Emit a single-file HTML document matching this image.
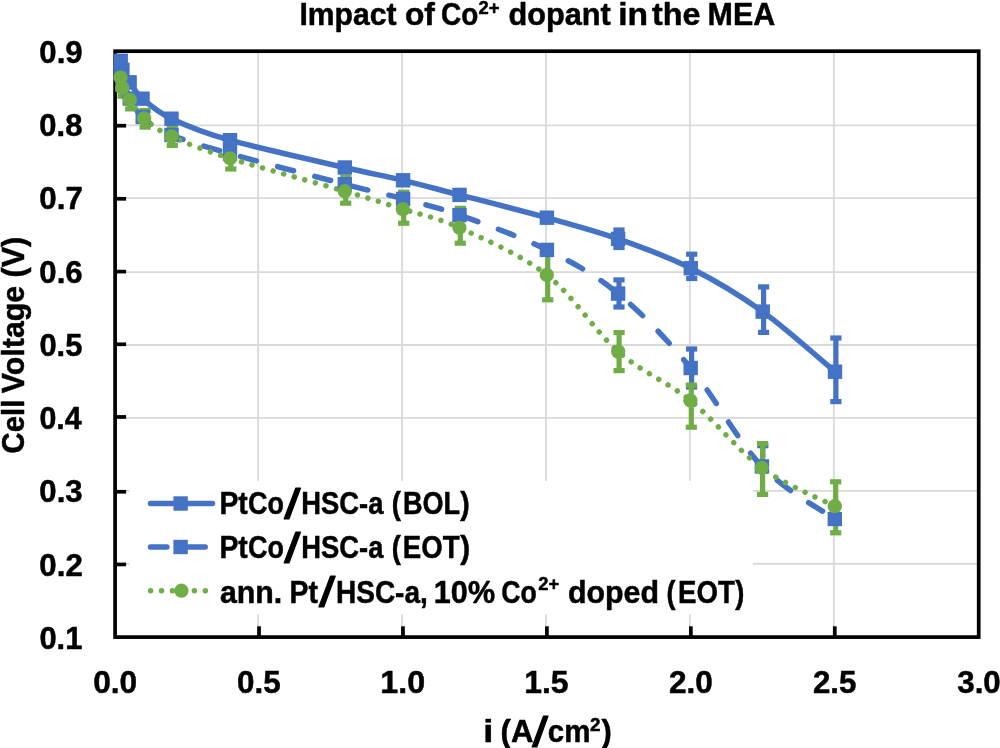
<!DOCTYPE html>
<html lang="en"><head><meta charset="utf-8"><title>Impact of Co2+ dopant in the MEA</title>
<style>html,body{margin:0;padding:0;background:#fff;}body{width:1000px;height:748px;overflow:hidden;}svg{display:block;}text{font-family:"Liberation Sans",sans-serif;font-weight:bold;fill:#000;}</style></head><body>
<svg width="1000" height="748" viewBox="0 0 1000 748">
<rect width="1000" height="748" fill="#fff"/>
<g stroke="#d9d9d9" stroke-width="1.8" fill="none">
<line x1="258.08" y1="51.2" x2="258.08" y2="637.1"/>
<line x1="402.02" y1="51.2" x2="402.02" y2="637.1"/>
<line x1="545.95" y1="51.2" x2="545.95" y2="637.1"/>
<line x1="689.88" y1="51.2" x2="689.88" y2="637.1"/>
<line x1="833.82" y1="51.2" x2="833.82" y2="637.1"/>
<line x1="115.1" y1="563.75" x2="978.7" y2="563.75"/>
<line x1="115.1" y1="490.90" x2="978.7" y2="490.90"/>
<line x1="115.1" y1="417.90" x2="978.7" y2="417.90"/>
<line x1="115.1" y1="345.00" x2="978.7" y2="345.00"/>
<line x1="115.1" y1="272.10" x2="978.7" y2="272.10"/>
<line x1="115.1" y1="198.20" x2="978.7" y2="198.20"/>
<line x1="115.1" y1="125.40" x2="978.7" y2="125.40"/>
</g>
<rect x="129.5" y="480.8" width="623.4" height="133.5" fill="#fff"/>
<g stroke="#000" stroke-width="3.7" fill="none">
<line x1="259.03" y1="637.1" x2="259.03" y2="626.3"/>
<line x1="402.97" y1="637.1" x2="402.97" y2="626.3"/>
<line x1="546.90" y1="637.1" x2="546.90" y2="626.3"/>
<line x1="690.83" y1="637.1" x2="690.83" y2="626.3"/>
<line x1="834.77" y1="637.1" x2="834.77" y2="626.3"/>
<line x1="115.1" y1="564.45" x2="126.1" y2="564.45"/>
<line x1="115.1" y1="491.76" x2="126.1" y2="491.76"/>
<line x1="115.1" y1="416.95" x2="126.1" y2="416.95"/>
<line x1="115.1" y1="344.30" x2="126.1" y2="344.30"/>
<line x1="115.1" y1="271.60" x2="126.1" y2="271.60"/>
<line x1="115.1" y1="198.80" x2="126.1" y2="198.80"/>
<line x1="115.1" y1="125.70" x2="126.1" y2="125.70"/>
<rect x="115.1" y="51.2" width="863.6" height="585.9"/>
</g>
<path d="M120.70 60.80 C120.98 62.30 120.92 66.22 122.40 69.80 C123.88 73.38 126.25 77.48 129.60 82.30 C132.95 87.12 135.52 92.63 142.50 98.70 C149.48 104.77 156.92 111.78 171.50 118.70 C186.08 125.62 201.12 132.07 230.00 140.20 C258.88 148.33 315.95 160.82 344.80 167.50 C373.65 174.18 383.98 175.73 403.10 180.30 C422.22 184.87 435.53 188.67 459.50 194.90 C483.47 201.13 520.47 210.37 546.90 217.70 C573.33 225.03 594.12 230.48 618.10 238.90 C642.08 247.32 666.70 256.08 690.80 268.20 C714.90 280.32 738.67 294.35 762.70 311.60 C786.73 328.85 822.95 361.68 835.00 371.70" fill="none" stroke="#4472c4" stroke-width="5.47" stroke-linecap="round" stroke-linejoin="round"/>
<g stroke="#4472c4" stroke-width="5.2" fill="none">
<path d="M619.0 230.0 V247.5"/>
<path d="M613.4 230.0 H624.6"/>
<path d="M613.4 247.5 H624.6"/>
<path d="M691.7 254.2 V278.5"/>
<path d="M686.1 254.2 H697.3"/>
<path d="M686.1 278.5 H697.3"/>
<path d="M763.6 286.9 V332.4"/>
<path d="M758.0 286.9 H769.2"/>
<path d="M758.0 332.4 H769.2"/>
<path d="M835.9 338.0 V401.6"/>
<path d="M830.3 338.0 H841.5"/>
<path d="M830.3 401.6 H841.5"/>
</g>
<path d="M120.70 72.00 C120.98 74.15 120.88 80.48 122.40 84.90 C123.92 89.32 126.42 93.15 129.80 98.50 C133.18 103.85 135.75 110.92 142.70 117.00 C149.65 123.08 156.95 128.90 171.50 135.00 C186.05 141.10 201.12 145.40 230.00 153.60 C258.88 161.80 315.95 176.65 344.80 184.20 C373.65 191.75 383.98 193.75 403.10 198.90 C422.22 204.05 435.53 206.60 459.50 215.10 C483.47 223.60 520.47 236.82 546.90 249.90 C573.33 262.98 594.13 273.92 618.10 293.60 C642.07 313.28 666.73 339.20 690.70 368.00 C714.67 396.80 737.88 441.23 761.90 466.40 C785.92 491.57 822.65 510.23 834.80 519.00" fill="none" stroke="#4472c4" stroke-width="5.47" stroke-linecap="round" stroke-linejoin="round" stroke-dasharray="16.41 21.88" stroke-dashoffset="-4.67"/>
<g stroke="#4472c4" stroke-width="5.2" fill="none">
<path d="M619.0 279.9 V307.0"/>
<path d="M613.4 279.9 H624.6"/>
<path d="M613.4 307.0 H624.6"/>
<path d="M691.6 349.0 V387.0"/>
<path d="M686.0 349.0 H697.2"/>
<path d="M686.0 387.0 H697.2"/>
<path d="M762.8 445.7 V457.7"/>
<path d="M757.2 445.7 H768.4"/>
</g>
<path d="M120.50 77.60 C120.80 79.32 120.75 84.18 122.30 87.90 C123.85 91.62 126.17 94.83 129.80 99.90 C133.43 104.97 137.17 112.22 144.10 118.30 C151.03 124.38 157.08 129.73 171.40 136.40 C185.72 143.07 201.10 149.17 230.00 158.30 C258.90 167.43 316.00 182.73 344.80 191.20 C373.60 199.67 383.70 203.00 402.80 209.10 C421.90 215.20 435.40 216.83 459.40 227.80 C483.40 238.77 520.33 254.27 546.80 274.90 C573.27 295.53 594.27 330.67 618.20 351.60 C642.13 372.53 666.48 381.13 690.40 400.50 C714.32 419.87 737.63 450.18 761.70 467.80 C785.77 485.42 822.62 499.80 834.80 506.20" fill="none" stroke="#70ad47" stroke-width="5.47" stroke-linecap="round" stroke-linejoin="round" stroke-dasharray="0.01 10.93" stroke-dashoffset="-2.5"/>
<g stroke="#70ad47" stroke-width="5.2" fill="none">
<path d="M121.4 73.5 V85.5"/>
<path d="M115.8 85.5 H127.0"/>
<path d="M123.2 84.2 V96.2"/>
<path d="M117.6 96.2 H128.8"/>
<path d="M130.7 96.9 V108.9"/>
<path d="M125.1 108.9 H136.3"/>
<path d="M145.2 110.5 V127.1"/>
<path d="M139.6 110.5 H150.8"/>
<path d="M139.6 127.1 H150.8"/>
<path d="M172.3 127.4 V145.4"/>
<path d="M166.7 127.4 H177.9"/>
<path d="M166.7 145.4 H177.9"/>
<path d="M230.8 148.4 V169.0"/>
<path d="M225.2 148.4 H236.4"/>
<path d="M225.2 169.0 H236.4"/>
<path d="M345.7 177.2 V203.2"/>
<path d="M340.1 177.2 H351.3"/>
<path d="M340.1 203.2 H351.3"/>
<path d="M403.7 192.2 V223.2"/>
<path d="M398.1 192.2 H409.3"/>
<path d="M398.1 223.2 H409.3"/>
<path d="M460.3 208.3 V243.2"/>
<path d="M454.7 208.3 H465.9"/>
<path d="M454.7 243.2 H465.9"/>
<path d="M547.7 250.0 V299.8"/>
<path d="M542.1 250.0 H553.3"/>
<path d="M542.1 299.8 H553.3"/>
<path d="M619.1 332.6 V370.6"/>
<path d="M613.5 332.6 H624.7"/>
<path d="M613.5 370.6 H624.7"/>
<path d="M691.3 385.1 V427.2"/>
<path d="M685.7 385.1 H696.9"/>
<path d="M685.7 427.2 H696.9"/>
<path d="M762.6 443.6 V494.4"/>
<path d="M757.0 443.6 H768.2"/>
<path d="M757.0 494.4 H768.2"/>
<path d="M835.7 481.8 V532.8"/>
<path d="M830.1 481.8 H841.3"/>
<path d="M830.1 532.8 H841.3"/>
</g>
<g fill="#4472c4">
<rect x="113.5" y="53.6" width="14.4" height="14.4"/>
<rect x="115.2" y="62.6" width="14.4" height="14.4"/>
<rect x="122.4" y="75.1" width="14.4" height="14.4"/>
<rect x="135.3" y="91.5" width="14.4" height="14.4"/>
<rect x="164.3" y="111.5" width="14.4" height="14.4"/>
<rect x="222.8" y="133.0" width="14.4" height="14.4"/>
<rect x="337.6" y="160.3" width="14.4" height="14.4"/>
<rect x="395.9" y="173.1" width="14.4" height="14.4"/>
<rect x="452.3" y="187.7" width="14.4" height="14.4"/>
<rect x="539.7" y="210.5" width="14.4" height="14.4"/>
<rect x="610.9" y="231.7" width="14.4" height="14.4"/>
<rect x="683.6" y="261.0" width="14.4" height="14.4"/>
<rect x="755.5" y="304.4" width="14.4" height="14.4"/>
<rect x="827.8" y="364.5" width="14.4" height="14.4"/>
<rect x="113.5" y="64.8" width="14.4" height="14.4"/>
<rect x="115.2" y="77.7" width="14.4" height="14.4"/>
<rect x="122.6" y="91.3" width="14.4" height="14.4"/>
<rect x="135.5" y="109.8" width="14.4" height="14.4"/>
<rect x="164.3" y="127.8" width="14.4" height="14.4"/>
<rect x="222.8" y="146.4" width="14.4" height="14.4"/>
<rect x="337.6" y="177.0" width="14.4" height="14.4"/>
<rect x="395.9" y="191.7" width="14.4" height="14.4"/>
<rect x="452.3" y="207.9" width="14.4" height="14.4"/>
<rect x="539.7" y="242.7" width="14.4" height="14.4"/>
<rect x="610.9" y="286.4" width="14.4" height="14.4"/>
<rect x="683.5" y="360.8" width="14.4" height="14.4"/>
<rect x="754.7" y="459.2" width="14.4" height="14.4"/>
<rect x="827.6" y="511.8" width="14.4" height="14.4"/>
</g><g fill="#70ad47">
<circle cx="120.5" cy="77.6" r="7.15"/>
<circle cx="122.3" cy="87.9" r="7.15"/>
<circle cx="129.8" cy="99.9" r="7.15"/>
<circle cx="144.1" cy="118.3" r="7.15"/>
<circle cx="171.4" cy="136.4" r="7.15"/>
<circle cx="230.0" cy="158.3" r="7.15"/>
<circle cx="344.8" cy="191.2" r="7.15"/>
<circle cx="402.8" cy="209.1" r="7.15"/>
<circle cx="459.4" cy="227.8" r="7.15"/>
<circle cx="546.8" cy="274.9" r="7.15"/>
<circle cx="618.2" cy="351.6" r="7.15"/>
<circle cx="690.4" cy="400.5" r="7.15"/>
<circle cx="761.7" cy="467.8" r="7.15"/>
<circle cx="834.8" cy="506.2" r="7.15"/>
</g>
<g fill="none" stroke-width="5.5" stroke-linecap="round">
<path d="M150.5 503.6 H212.5" stroke="#4472c4"/>
<path d="M150.5 547 H212.5" stroke="#4472c4" stroke-dasharray="16.4 21.9"/>
<path d="M150.6 590.7 H212" stroke="#70ad47" stroke-dasharray="0.01 10.94"/>
</g>
<rect x="173.4" y="496.3" width="14.4" height="14.4" fill="#4472c4"/>
<rect x="173.4" y="539.8" width="14.4" height="14.4" fill="#4472c4"/>
<circle cx="181.4" cy="590.7" r="7.15" fill="#70ad47"/>
<g stroke="#000" stroke-width="0.5" stroke-linejoin="round">
<text font-size="31.5"><tspan x="299.39" y="25.1" textLength="97.08" lengthAdjust="spacingAndGlyphs">Impact</tspan> <tspan x="404.96" y="25.1" textLength="29.98" lengthAdjust="spacingAndGlyphs">of</tspan> <tspan x="441.05" y="25.1" textLength="37.24" lengthAdjust="spacingAndGlyphs">Co</tspan><tspan x="478.46" y="13.5" textLength="20.98" lengthAdjust="spacingAndGlyphs" font-size="18.5">2+</tspan> <tspan x="508.44" y="25.1" textLength="102.33" lengthAdjust="spacingAndGlyphs">dopant</tspan> <tspan x="618.26" y="25.1" textLength="29.82" lengthAdjust="spacingAndGlyphs">in</tspan> <tspan x="652.01" y="25.1" textLength="48.50" lengthAdjust="spacingAndGlyphs">the</tspan> <tspan x="707.56" y="25.1" textLength="67.64" lengthAdjust="spacingAndGlyphs">MEA</tspan></text>
<text font-size="31.5"><tspan x="39.37" y="62.9" textLength="43.29" lengthAdjust="spacingAndGlyphs">0.9</tspan></text>
<text font-size="31.5"><tspan x="39.37" y="136.1" textLength="43.08" lengthAdjust="spacingAndGlyphs">0.8</tspan></text>
<text font-size="31.5"><tspan x="39.36" y="209.4" textLength="43.51" lengthAdjust="spacingAndGlyphs">0.7</tspan></text>
<text font-size="31.5"><tspan x="39.37" y="282.6" textLength="43.25" lengthAdjust="spacingAndGlyphs">0.6</tspan></text>
<text font-size="31.5"><tspan x="39.38" y="355.8" textLength="42.98" lengthAdjust="spacingAndGlyphs">0.5</tspan></text>
<text font-size="31.5"><tspan x="39.40" y="429.1" textLength="42.27" lengthAdjust="spacingAndGlyphs">0.4</tspan></text>
<text font-size="31.5"><tspan x="39.37" y="502.3" textLength="43.25" lengthAdjust="spacingAndGlyphs">0.3</tspan></text>
<text font-size="31.5"><tspan x="39.37" y="575.6" textLength="43.38" lengthAdjust="spacingAndGlyphs">0.2</tspan></text>
<text font-size="31.5"><tspan x="39.38" y="648.8" textLength="42.98" lengthAdjust="spacingAndGlyphs">0.1</tspan></text>
<text font-size="31.5"><tspan x="93.15" y="693.2" textLength="44.05" lengthAdjust="spacingAndGlyphs">0.0</tspan></text>
<text font-size="31.5"><tspan x="237.09" y="693.2" textLength="43.61" lengthAdjust="spacingAndGlyphs">0.5</tspan></text>
<text font-size="31.5"><tspan x="380.23" y="693.2" textLength="44.86" lengthAdjust="spacingAndGlyphs">1.0</tspan></text>
<text font-size="31.5"><tspan x="524.19" y="693.2" textLength="44.40" lengthAdjust="spacingAndGlyphs">1.5</tspan></text>
<text font-size="31.5"><tspan x="669.04" y="693.2" textLength="43.89" lengthAdjust="spacingAndGlyphs">2.0</tspan></text>
<text font-size="31.5"><tspan x="812.98" y="693.2" textLength="43.45" lengthAdjust="spacingAndGlyphs">2.5</tspan></text>
<text font-size="31.5"><tspan x="957.28" y="693.2" textLength="43.50" lengthAdjust="spacingAndGlyphs">3.0</tspan></text>
<text font-size="31.5"><tspan x="483.36" y="741.6" textLength="10.12" lengthAdjust="spacingAndGlyphs">i</tspan> <tspan x="500.55" y="741.6" textLength="32.77" lengthAdjust="spacingAndGlyphs">(A</tspan><tspan x="532.30" y="746.5" textLength="15.70" lengthAdjust="spacingAndGlyphs" font-weight="normal" stroke-width="1" font-size="41.7">/</tspan><tspan x="547.75" y="741.6" textLength="42.58" lengthAdjust="spacingAndGlyphs">cm</tspan><tspan x="589.94" y="731.0" textLength="10.51" lengthAdjust="spacingAndGlyphs" font-size="18.5">2</tspan><tspan x="601.47" y="741.6" textLength="10.27" lengthAdjust="spacingAndGlyphs">)</tspan></text>
<g transform="translate(23.8 452.3) rotate(-90)">
<text font-size="31.5"><tspan x="-1.20" y="0.0" textLength="53.78" lengthAdjust="spacingAndGlyphs">Cell</tspan> <tspan x="59.10" y="0.0" textLength="107.42" lengthAdjust="spacingAndGlyphs">Voltage</tspan> <tspan x="174.77" y="0.0" textLength="40.85" lengthAdjust="spacingAndGlyphs">(V)</tspan></text>
</g>
<text font-size="31.5"><tspan x="219.40" y="513.8" textLength="28.34" lengthAdjust="spacingAndGlyphs">Pt</tspan><tspan x="248.09" y="513.8" textLength="35.96" lengthAdjust="spacingAndGlyphs">Co</tspan><tspan x="284.30" y="518.7" textLength="16.20" lengthAdjust="spacingAndGlyphs" font-weight="normal" stroke-width="1" font-size="41.7">/</tspan><tspan x="301.37" y="513.8" textLength="82.06" lengthAdjust="spacingAndGlyphs">HSC-a</tspan> <tspan x="391.64" y="513.8" textLength="9.09" lengthAdjust="spacingAndGlyphs">(</tspan><tspan x="402.89" y="513.8" textLength="57.14" lengthAdjust="spacingAndGlyphs">BOL</tspan><tspan x="460.37" y="513.8" textLength="9.44" lengthAdjust="spacingAndGlyphs">)</tspan></text>
<text font-size="31.5"><tspan x="219.40" y="557.9" textLength="28.34" lengthAdjust="spacingAndGlyphs">Pt</tspan><tspan x="248.09" y="557.9" textLength="35.96" lengthAdjust="spacingAndGlyphs">Co</tspan><tspan x="284.30" y="562.8" textLength="16.20" lengthAdjust="spacingAndGlyphs" font-weight="normal" stroke-width="1" font-size="41.7">/</tspan><tspan x="301.37" y="557.9" textLength="82.06" lengthAdjust="spacingAndGlyphs">HSC-a</tspan> <tspan x="391.64" y="557.9" textLength="9.09" lengthAdjust="spacingAndGlyphs">(</tspan><tspan x="402.85" y="557.9" textLength="56.85" lengthAdjust="spacingAndGlyphs">EOT</tspan><tspan x="460.37" y="557.9" textLength="9.91" lengthAdjust="spacingAndGlyphs">)</tspan></text>
<text font-size="31.5"><tspan x="219.91" y="602.5" textLength="62.38" lengthAdjust="spacingAndGlyphs">ann.</tspan> <tspan x="289.60" y="602.5" textLength="28.34" lengthAdjust="spacingAndGlyphs">Pt</tspan><tspan x="319.00" y="607.4" textLength="16.20" lengthAdjust="spacingAndGlyphs" font-weight="normal" stroke-width="1" font-size="41.7">/</tspan><tspan x="336.03" y="602.5" textLength="91.74" lengthAdjust="spacingAndGlyphs">HSC-a,</tspan> <tspan x="433.87" y="602.5" textLength="61.23" lengthAdjust="spacingAndGlyphs">10%</tspan> <tspan x="501.31" y="602.5" textLength="35.43" lengthAdjust="spacingAndGlyphs">Co</tspan><tspan x="538.36" y="590.1" textLength="20.98" lengthAdjust="spacingAndGlyphs" font-size="18.5">2+</tspan> <tspan x="567.96" y="602.5" textLength="91.05" lengthAdjust="spacingAndGlyphs">doped</tspan> <tspan x="666.46" y="602.5" textLength="8.97" lengthAdjust="spacingAndGlyphs">(</tspan><tspan x="677.95" y="602.5" textLength="56.85" lengthAdjust="spacingAndGlyphs">EOT</tspan><tspan x="735.17" y="602.5" textLength="9.09" lengthAdjust="spacingAndGlyphs">)</tspan></text>
</g>
</svg></body></html>
